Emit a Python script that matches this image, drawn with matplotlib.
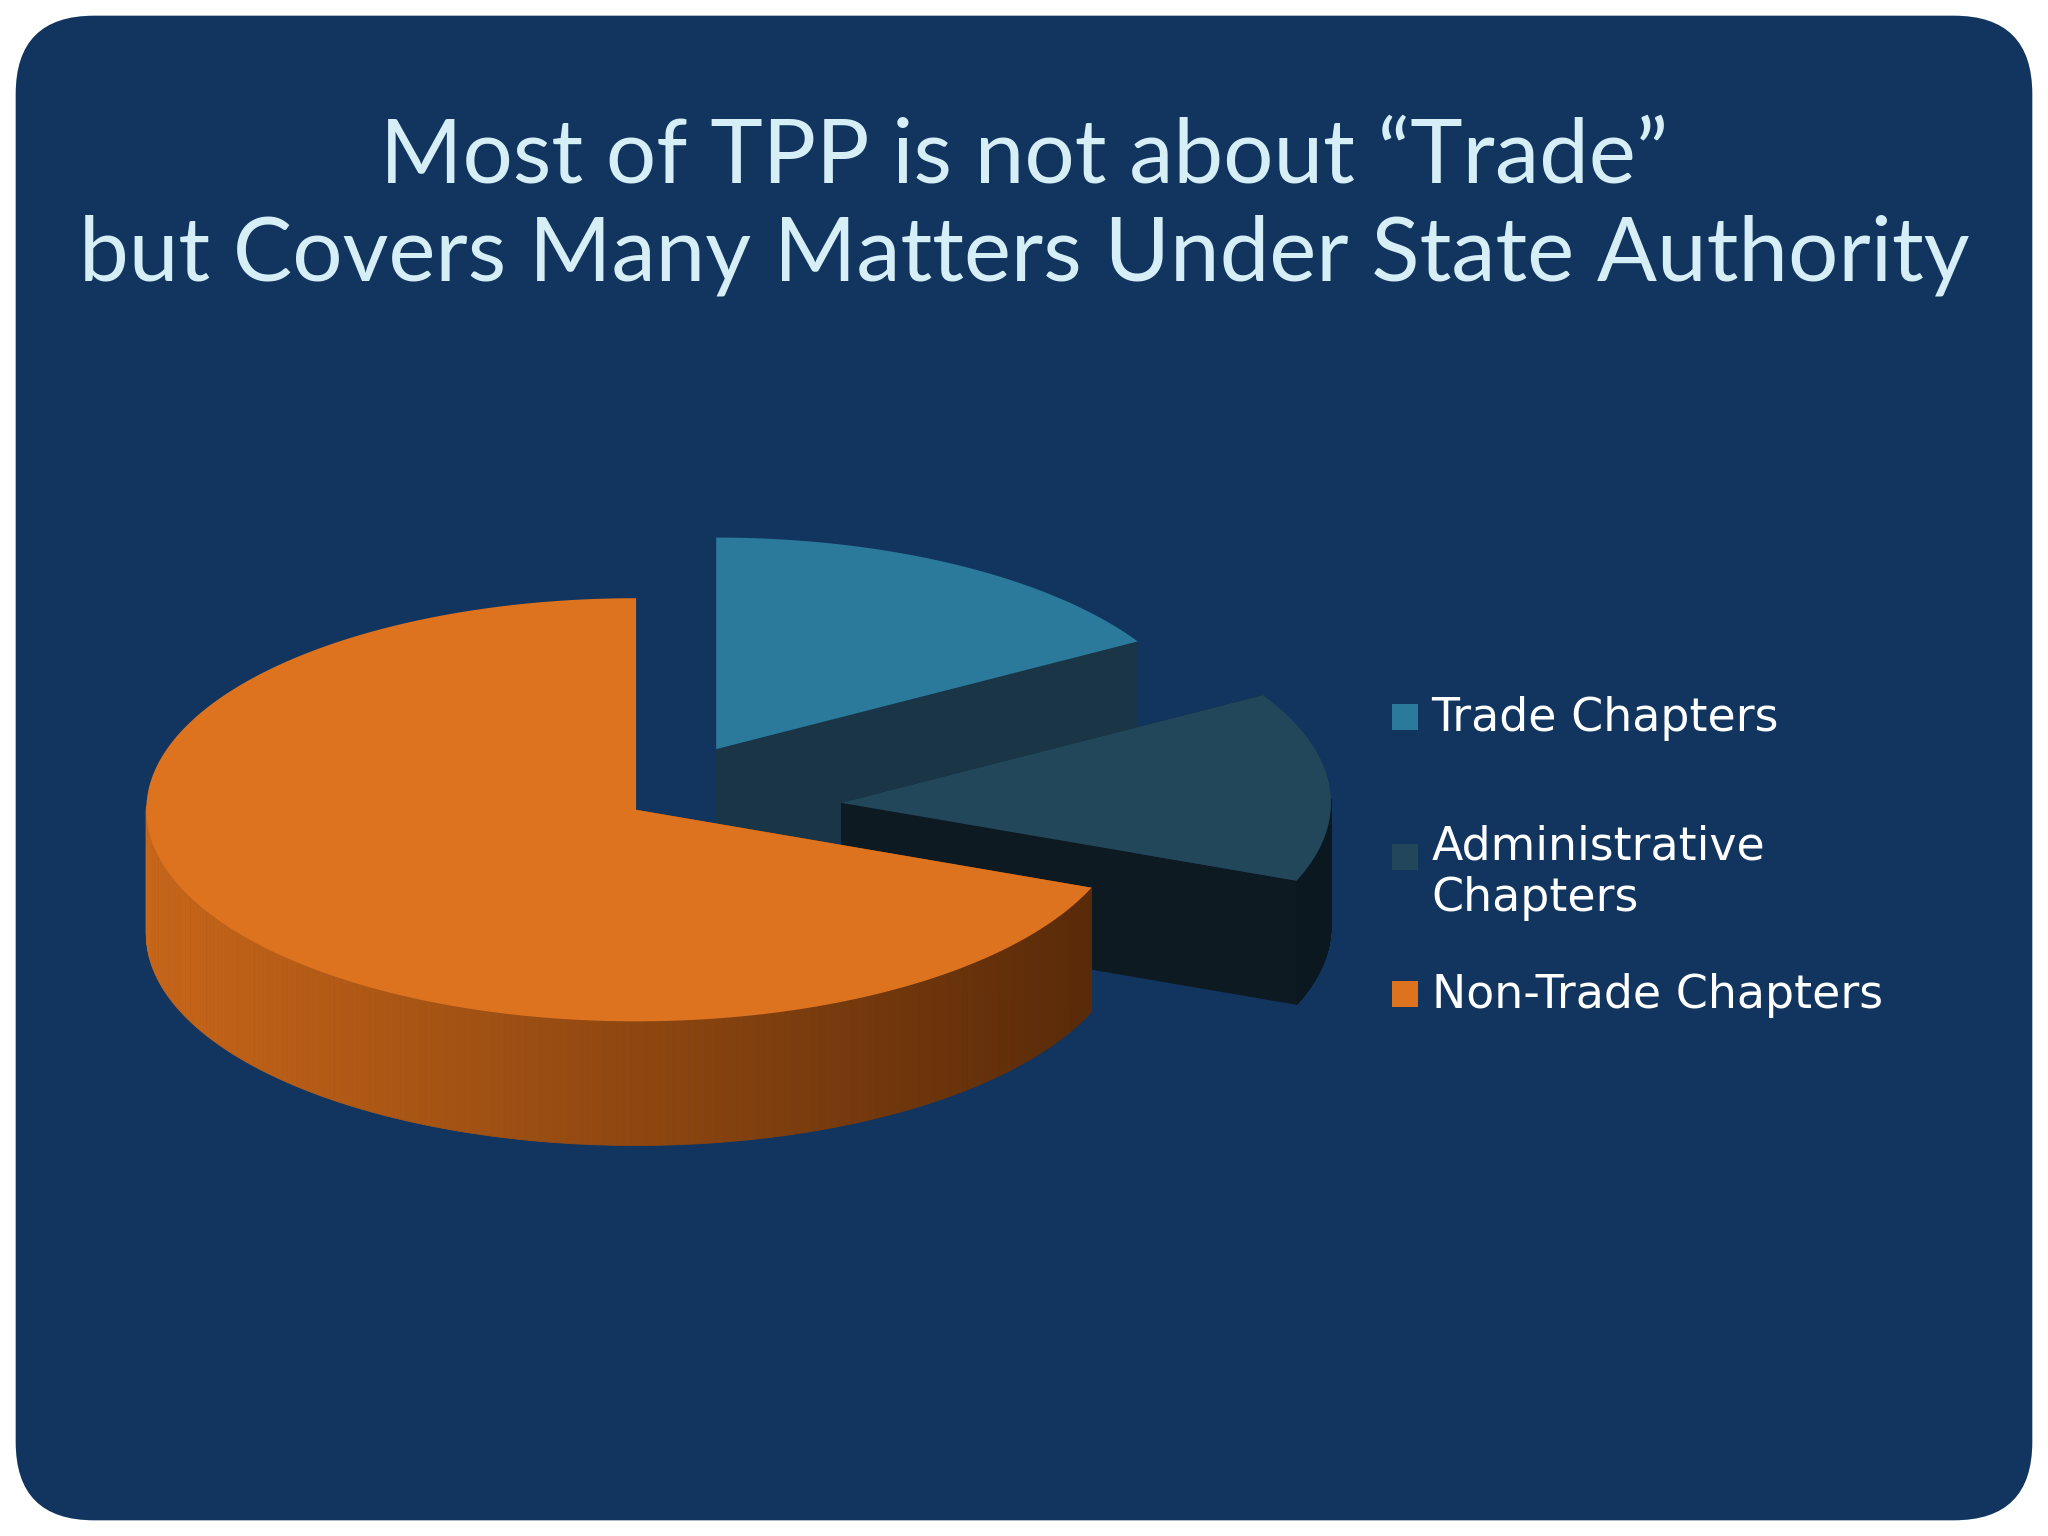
import numpy as np
import matplotlib
matplotlib.use("Agg")
import matplotlib.pyplot as plt
from matplotlib.patches import FancyBboxPatch, Polygon, Rectangle
from matplotlib.colors import to_rgb

labels = ["Trade Chapters", "Administrative\nChapters", "Non-Trade Chapters"]
values = [16.5, 14.5, 69.0]
explode = [0.33, 0.42, 0.0]
top_colors = ["#2b7a9b", "#23475a", "#dd731f"]
side_light = ["#1f4b5e", "#13232e", "#c86619"]
side_dark = ["#152f3c", "#0c1820", "#552808"]
face_colors = ["#1a3646", "#0e1a22", "#a8520f"]

title = "Most of TPP is not about \u201cTrade\u201d\nbut Covers Many Matters Under State Authority"

W, H = 1568, 1176
fig = plt.figure(figsize=(20.48, 15.36), dpi=100)
ax = fig.add_axes([0, 0, 1, 1])
ax.set_xlim(0, W)
ax.set_ylim(H, 0)
ax.axis("off")
fig.patch.set_facecolor("white")

ax.add_patch(FancyBboxPatch((12 + 60, 12 + 60), W - 24 - 120, H - 24 - 120,
                            boxstyle="round,pad=60", fc="#12355f", ec="none"))
ax.text(W / 2, 158, title, ha="center", va="center", fontsize=64,
        color="#d6eef5", family="Lato", linespacing=1.25)

cx, cy, rx, ry, depth = 487, 620, 375, 162, 95


def pt(x0, y0, a, dz=0):
    return (x0 + rx * np.cos(a), y0 - ry * np.sin(a) + dz)


def mix(c1, c2, t):
    a, b = np.array(to_rgb(c1)), np.array(to_rgb(c2))
    return tuple(a + (b - a) * t)


# angles: clockwise from 90 deg
bounds = 90 - np.cumsum([0] + values) / sum(values) * 360
for i in range(len(values)):
    a1, a0 = np.radians(bounds[i]), np.radians(bounds[i + 1])
    mid = (a0 + a1) / 2
    ox = cx + explode[i] * rx * np.cos(mid)
    oy = cy - explode[i] * ry * np.sin(mid)
    # radial faces
    for a in (a0, a1):
        p = pt(ox, oy, a)
        ax.add_patch(Polygon([(ox, oy), p, (p[0], p[1] + depth), (ox, oy + depth)],
                             closed=True, fc=face_colors[i], ec="none"))
    # outer side wall (front half only)
    ts = np.linspace(a0, a1, 300)
    for j in range(len(ts) - 1):
        s = 0.5 * (np.sin(ts[j]) + np.sin(ts[j + 1]))
        if s > 0.02:
            continue
        p1, p2 = pt(ox, oy, ts[j]), pt(ox, oy, ts[j + 1])
        t = (p1[0] - (cx - rx)) / (2 * rx)
        col = mix(side_light[i], side_dark[i], np.clip(t, 0, 1))
        ax.add_patch(Polygon([p1, p2, (p2[0], p2[1] + depth), (p1[0], p1[1] + depth)],
                             closed=True, fc=col, ec=col, lw=0.6))
    # top
    arc = [pt(ox, oy, a) for a in ts]
    ax.add_patch(Polygon([(ox, oy)] + arc, closed=True, fc=top_colors[i], ec="none"))

# legend
ly = [550, 657, 762]
for i, lab in enumerate(labels):
    ax.add_patch(Rectangle((1066, ly[i] - 11), 20, 20, fc=top_colors[i], ec="none"))
    multi = "\n" in lab
    ax.text(1096, ly[i] - (26 if multi else 0), lab, ha="left",
            va="top" if multi else "center", fontsize=33, color="white",
            family="DejaVu Sans", linespacing=1.2)

fig.savefig("out.png", dpi=100)
